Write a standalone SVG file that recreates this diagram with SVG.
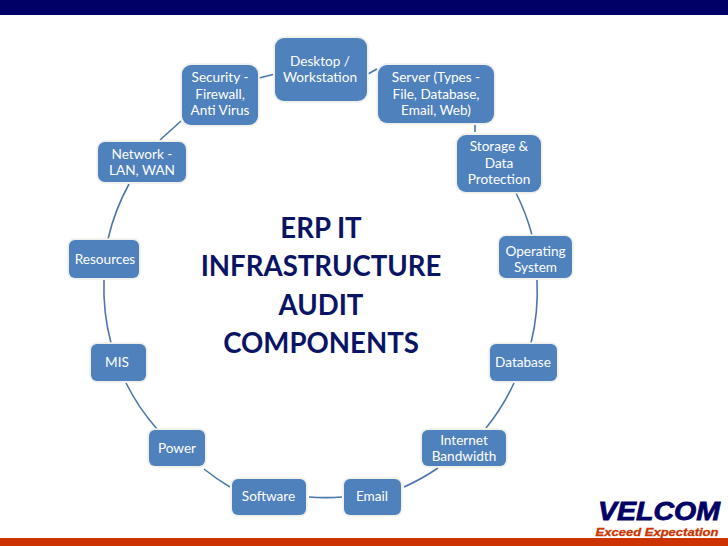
<svg xmlns="http://www.w3.org/2000/svg" width="728" height="546" viewBox="0 0 728 546">
<style>
.n{fill:#4f81bd;stroke:#efefec;stroke-width:3.500;paint-order:stroke}
.t{font-family:"Lato","Open Sans","Liberation Sans",sans-serif;font-size:13.600px;fill:#fff;text-anchor:middle}
.c{fill:none;stroke:#4a76ac;stroke-width:1.600}
.h{font-family:"Lato","Open Sans","Liberation Sans",sans-serif;font-size:27.600px;font-weight:700;fill:#0a1464;text-anchor:middle}
</style>
<rect width="728" height="546" fill="#fff"/>
<rect id="top-bar" width="728" height="15" fill="#000066"/>
<rect id="bottom-bar" y="538" width="728" height="8" fill="#cc3300"/>
<g id="connectors">
<path class="c" d="M259 78 L273 74.500"/>
<path class="c" d="M368 74 L377 69"/>
<path class="c" d="M475 125 L475 132"/>
<path class="c" d="M516 193 A216 216 0 0 1 532 235"/>
<path class="c" d="M537 280 A216 216 0 0 1 531 343"/>
<path class="c" d="M514 383 A216 216 0 0 1 486 428"/>
<path class="c" d="M438 468 A216 216 0 0 1 404 487"/>
<path class="c" d="M342 497 A216 216 0 0 1 309 497"/>
<path class="c" d="M230 487 A216 216 0 0 1 204 469"/>
<path class="c" d="M157 429 A216 216 0 0 1 126 383"/>
<path class="c" d="M111 343 A216 216 0 0 1 104 280"/>
<path class="c" d="M108 239 A216 216 0 0 1 129 184"/>
<path class="c" d="M160 140 L181 121"/>
</g>
<g id="node-desktop"><rect class="n" x="275" y="38" width="92" height="63" rx="9"/><text class="t" x="320" y="66">Desktop /</text><text class="t" x="320" y="82">Workstation</text></g>
<g id="node-server"><rect class="n" x="378" y="65" width="116" height="58" rx="9"/><text class="t" x="436" y="82">Server (Types -</text><text class="t" x="436" y="99">File, Database,</text><text class="t" x="436" y="115">Email, Web)</text></g>
<g id="node-storage"><rect class="n" x="457" y="135" width="84" height="57" rx="9"/><text class="t" x="499" y="151">Storage &amp;</text><text class="t" x="499" y="168">Data</text><text class="t" x="499" y="184">Protection</text></g>
<g id="node-os"><rect class="n" x="499" y="236" width="73" height="42" rx="7"/><text class="t" x="535.500" y="256">Operating</text><text class="t" x="535.500" y="272">System</text></g>
<g id="node-database"><rect class="n" x="490" y="344" width="67" height="37" rx="6"/><text class="t" x="523" y="367">Database</text></g>
<g id="node-internet"><rect class="n" x="422" y="430" width="84" height="36" rx="6"/><text class="t" x="464" y="445">Internet</text><text class="t" x="464" y="461">Bandwidth</text></g>
<g id="node-email"><rect class="n" x="344" y="479" width="57" height="36" rx="6"/><text class="t" x="372" y="501">Email</text></g>
<g id="node-software"><rect class="n" x="232" y="479" width="74" height="36" rx="6"/><text class="t" x="268.500" y="501">Software</text></g>
<g id="node-power"><rect class="n" x="149" y="430" width="56" height="36" rx="6"/><text class="t" x="177" y="453">Power</text></g>
<g id="node-mis"><rect class="n" x="91" y="344" width="55" height="37" rx="6"/><text class="t" x="117" y="367">MIS</text></g>
<g id="node-resources"><rect class="n" x="69" y="240" width="70" height="38" rx="6"/><text class="t" x="105" y="264">Resources</text></g>
<g id="node-network"><rect class="n" x="98" y="142" width="88" height="40" rx="7"/><text class="t" x="142" y="159">Network -</text><text class="t" x="142" y="175">LAN, WAN</text></g>
<g id="node-security"><rect class="n" x="182" y="65" width="76" height="60" rx="9"/><text class="t" x="220" y="82">Security -</text><text class="t" x="220" y="99">Firewall,</text><text class="t" x="220" y="115">Anti Virus</text></g>
<g id="title">
<text class="h" x="321" y="238">ERP IT</text>
<text class="h" x="321" y="276">INFRASTRUCTURE</text>
<text class="h" x="321" y="315">AUDIT</text>
<text class="h" x="321" y="353">COMPONENTS</text>
</g>
<g id="logo">
<text x="659" y="520" font-family="'Liberation Sans',Arial,sans-serif" font-size="26" font-weight="700" font-style="italic" fill="#000066" stroke="#000066" stroke-width=".8" text-anchor="middle" textLength="122" lengthAdjust="spacingAndGlyphs">VELCOM</text>
<text x="657" y="536" font-family="'Liberation Sans',Arial,sans-serif" font-size="11.500" font-weight="700" font-style="italic" fill="#cc3300" stroke="#cc3300" stroke-width=".3" text-anchor="middle" textLength="123" lengthAdjust="spacingAndGlyphs">Exceed Expectation</text>
</g>
</svg>
